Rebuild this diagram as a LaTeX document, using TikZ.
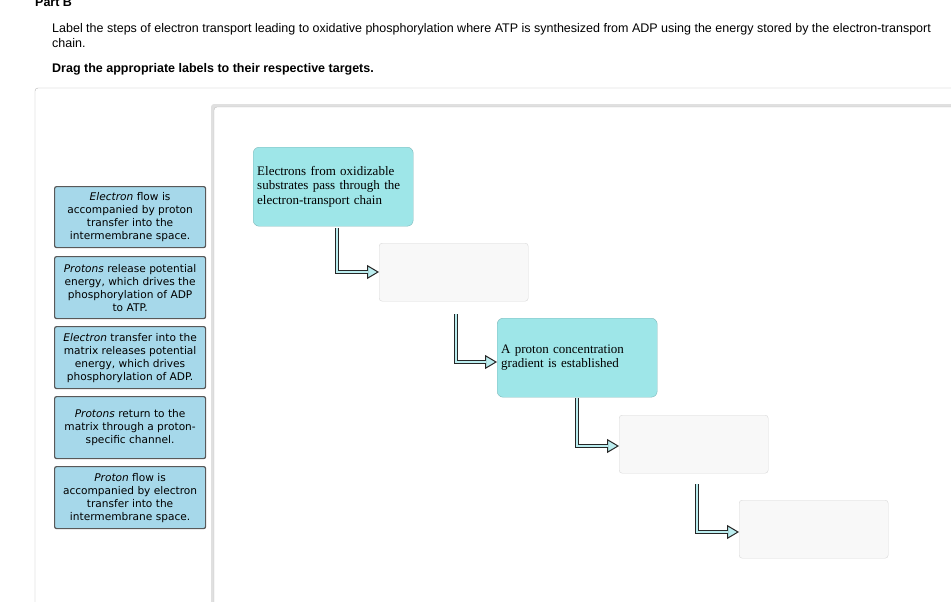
\documentclass[tikz,border=0pt]{standalone}
\usepackage{fontspec}
\setmainfont{Liberation Sans}
\newfontfamily\serifbox{Liberation Serif}
\newfontfamily\labelfont{DejaVu Sans}
\usetikzlibrary{arrows.meta, positioning}
\definecolor{labelblue}{HTML}{A6D8EA}
\definecolor{stepcyan}{HTML}{9EE6E8}
\definecolor{emptybox}{HTML}{F8F8F8}
\tikzset{
    textnode/.style = {draw=none, anchor=north west, inner sep=0pt, font=\fontsize{12.5}{14}\selectfont},
    labelnode/.style = {draw=black!65, line width=1.2pt, fill=labelblue, rounded corners=2pt, anchor=north west,
      minimum width=151pt, align=center, font=\labelfont\fontsize{10.6}{13}\selectfont},
    stepnode/.style = {draw=stepcyan!80!black, fill=stepcyan, rounded corners=6pt, anchor=north west,
      minimum width=160pt, minimum height=79pt, text width=152pt, align=left,
      font=\serifbox\fontsize{13}{14.5}\selectfont},
    targetnode/.style = {draw=black!15, fill=emptybox, rounded corners=3pt, anchor=north west,
      minimum width=149pt, minimum height=58pt},
    stepout/.style = {black!85, line width=4pt, -{Triangle[length=12pt, width=14pt, line width=1pt, fill=stepcyan!70]}},
    stepin/.style = {stepcyan!70, line width=1.8pt, shorten >=11pt}
}
\begin{document}
\begin{tikzpicture}[x=1pt, y=-1pt]
    \useasboundingbox (0,0) rectangle (951,602);
    \node [textnode, font=\bfseries\fontsize{12.5}{14}\selectfont, anchor=south west] at (35,7) {Part B};
    \node [textnode] at (52,23) {Label the steps of electron transport leading to oxidative phosphorylation where ATP is synthesized from ADP using the energy stored by the electron-transport};
    \node [textnode] at (52,38) {chain.};
    \node [textnode, font=\bfseries\fontsize{12.5}{14}\selectfont] at (52,63) {Drag the appropriate labels to their respective targets.};

    % frames
    \draw [black!30, rounded corners=3pt] (35,602) -- (35,88) -- (960,88);
    \fill [black!12, rounded corners=3pt] (211,104) rectangle (960,610);
    \draw [black!25, fill=white, rounded corners=3pt] (214,107) rectangle (960,610);

    % labels
    \node [labelnode, minimum height=61pt] (flow) at (54,186) {\textit{Electron} flow is\\accompanied by proton\\transfer into the\\intermembrane space.};
    \node [labelnode, minimum height=62pt] (release) at (54,256) {\textit{Protons} release potential\\energy, which drives the\\phosphorylation of ADP\\to ATP.};
    \node [labelnode, minimum height=62pt] (transfer) at (54,326) {\textit{Electron} transfer into the\\matrix releases potential\\energy, which drives\\phosphorylation of ADP.};
    \node [labelnode, minimum height=62pt] (return) at (54,396) {\textit{Protons} return to the\\matrix through a proton-\\specific channel.};
    \node [labelnode, minimum height=62pt] (protonflow) at (54,466) {\textit{Proton} flow is\\accompanied by electron\\transfer into the\\intermembrane space.};

    % steps
    \node [stepnode] (oxid) at (253,147) {Electrons from oxidizable\\substrates pass through the\\electron-transport chain};
    \node [targetnode] (target1) at (379,243) {};
    \node [stepnode] (gradient) at (497,318) {A proton concentration\\gradient is established};
    \node [targetnode] (target2) at (619,415) {};
    \node [targetnode] (target3) at (739,500) {};

    % connectors
    \coordinate (bend1) at (337,272);
    \coordinate (bend2) at (456,362);
    \coordinate (bend3) at (577,446);
    \coordinate (bend4) at (697,532);
    \draw [stepout] (337,228) -- (bend1) -- (target1.west |- bend1);
    \draw [stepin] (337,228) -- (bend1) -- (target1.west |- bend1);
    \draw [stepout] (456,314) -- (bend2) -- (gradient.west |- bend2);
    \draw [stepin] (456,314) -- (bend2) -- (gradient.west |- bend2);
    \draw [stepout] (577,398) -- (bend3) -- (target2.west |- bend3);
    \draw [stepin] (577,398) -- (bend3) -- (target2.west |- bend3);
    \draw [stepout] (697,484) -- (bend4) -- (target3.west |- bend4);
    \draw [stepin] (697,484) -- (bend4) -- (target3.west |- bend4);
\end{tikzpicture}
\end{document}
